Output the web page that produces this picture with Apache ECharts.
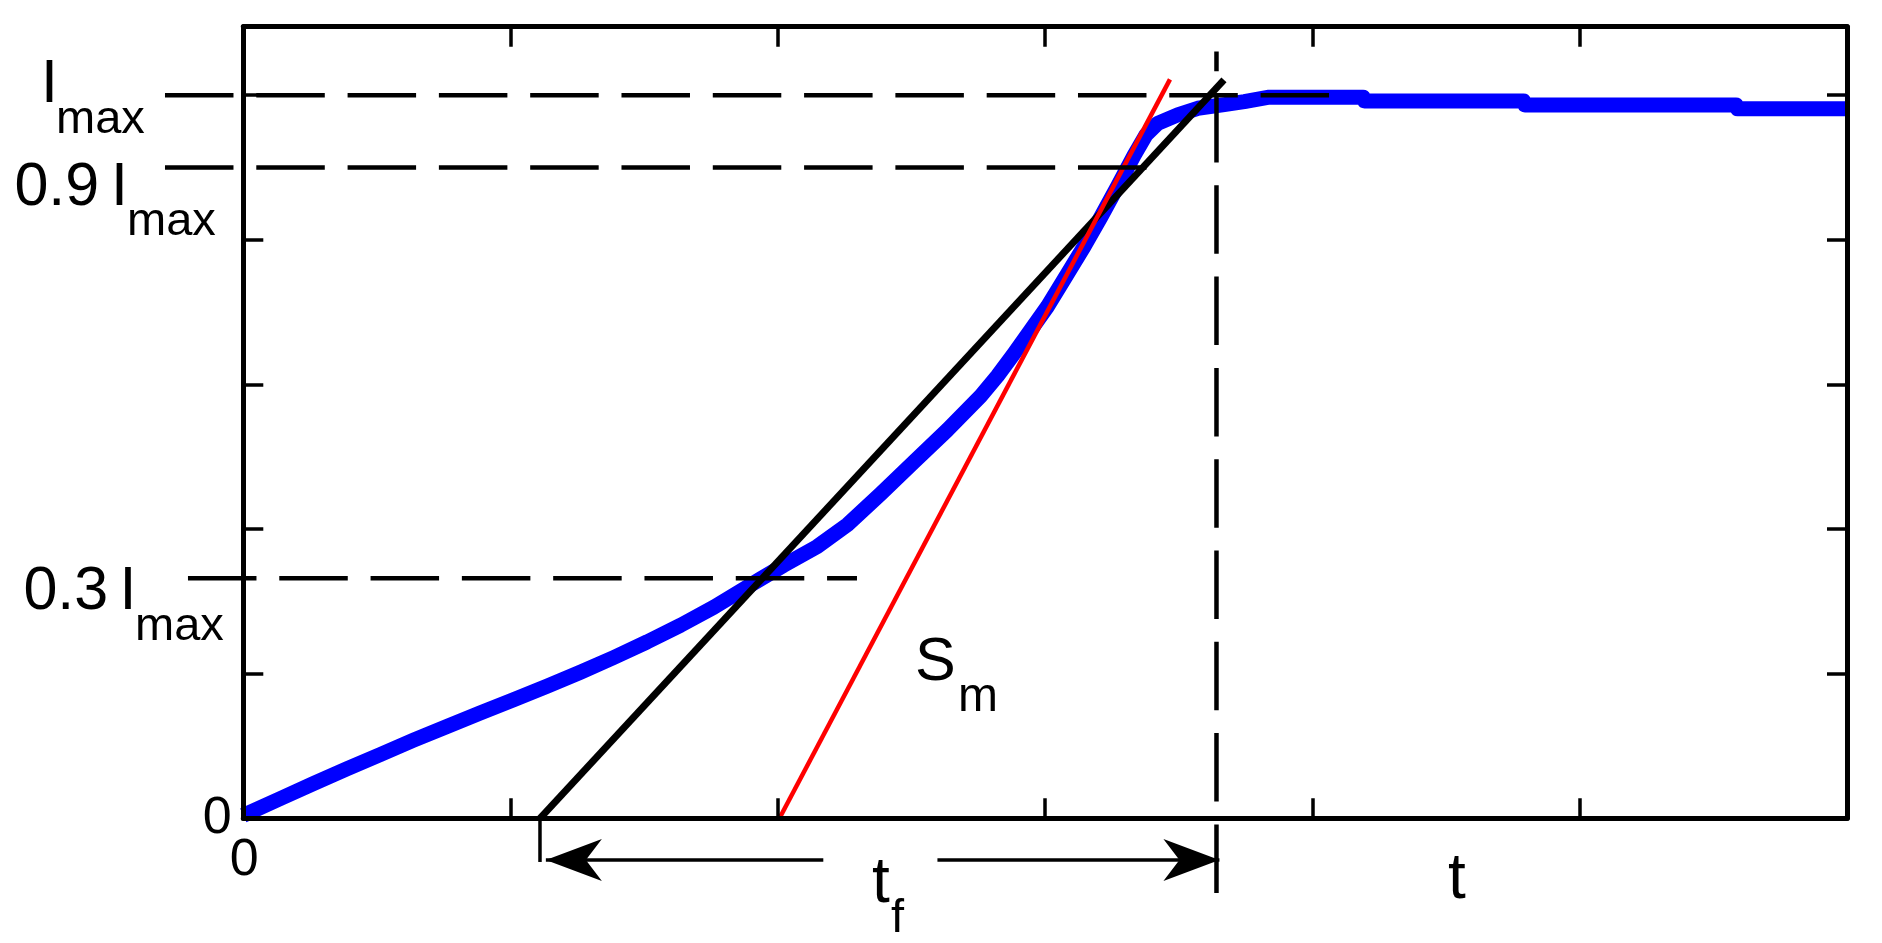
<!DOCTYPE html>
<html><head><meta charset="utf-8">
<script src="https://cdn.jsdelivr.net/npm/echarts@6/dist/echarts.min.js"></script>
<style>html,body{margin:0;padding:0;background:#fff}#c{width:1882px;height:943px}</style>
</head><body><div id="c"></div>
<script>
// ---- data ----
const blueX = [0, 0.137, 0.262, 0.387, 0.512, 0.637, 0.762, 0.886, 1.011, 1.136, 1.261, 1.386, 1.511, 1.636, 1.761, 1.886, 1.935, 2.022, 2.148, 2.26, 2.385, 2.509, 2.634, 2.759, 2.822, 2.884, 2.946, 3.009, 3.052, 3.146, 3.209, 3.271, 3.333, 3.377, 3.421, 3.496, 3.571, 3.67, 3.745, 3.833, 4.19, 4.195, 4.79, 4.795, 5.585, 5.59, 6.0];
const blueY = [0.02, 0.135, 0.24, 0.342, 0.44, 0.54, 0.635, 0.728, 0.82, 0.913, 1.01, 1.112, 1.22, 1.335, 1.46, 1.6, 1.655, 1.75, 1.88, 2.03, 2.245, 2.465, 2.685, 2.92, 3.06, 3.215, 3.375, 3.54, 3.67, 3.955, 4.16, 4.37, 4.585, 4.725, 4.805, 4.864, 4.91, 4.935, 4.956, 4.986, 4.986, 4.961, 4.961, 4.933, 4.933, 4.907, 4.907];
const tangentX = [1.110, 3.669];
const tangentY = [0, 5.106];
const slopeX = [2.006, 3.467];
const slopeY = [0, 5.11];
const levelNames = ['Imax', '0.9 Imax', '0.3 Imax'];
const levelValues = [5.0, 4.5, 1.66];
const levelStartX = [-0.293, -0.293, -0.207];
const levelEndX = [4.062, 3.381, 2.296];
const tEndX = 3.641;
const tEndRangeY = [-0.516, 5.302];
const tfStartX = 1.110;
const tfStartTickY = [0, -0.302];
const arrowY = -0.288;
const tfArrowTipX = [1.132, 3.652];
const tfGap = [2.170, 2.597];
const xRange = [0, 6];
const yRange = [0, 5.474];
const zeroLabel = '0';

const zip = (xs, ys) => xs.map((x, i) => [x, ys[i]]);
const dash = [68.5, 22.8];
const FONT = '"Liberation Sans", Arial, sans-serif';

function axisCommon(extra) {
  return Object.assign({
    type: 'value', interval: 1, z: 10,
    axisLine: { show: true, onZero: false, lineStyle: { color: '#000', width: 5 } },
    axisTick: { show: true, inside: true, length: 20, lineStyle: { color: '#000', width: 3.5 } },
    axisLabel: { show: false }, splitLine: { show: false }
  }, extra);
}

const chart = echarts.init(document.getElementById('c'), null, { renderer: 'canvas' });
chart.setOption({
  animation: false,
  backgroundColor: '#fff',
  grid: { left: 243.3, top: 26.7, width: 1603.7, height: 791.6, containLabel: false },
  xAxis: [axisCommon({ min: xRange[0], max: xRange[1], position: 'bottom' }),
          axisCommon({ min: xRange[0], max: xRange[1], position: 'top' })],
  yAxis: [axisCommon({ min: yRange[0], max: yRange[1], position: 'left' }),
          axisCommon({ min: yRange[0], max: yRange[1], position: 'right' })],
  series: [
    { type: 'line', data: zip(blueX, blueY), showSymbol: false, symbol: 'none',
      lineStyle: { color: '#0000ff', width: 15, cap: 'butt', join: 'round' }, z: 2 },
    { type: 'line', data: zip(tangentX, tangentY), symbol: 'none', clip: false,
      lineStyle: { color: '#000', width: 7 }, z: 3 },
    { type: 'line', data: zip(slopeX, slopeY), symbol: 'none', clip: false,
      lineStyle: { color: '#ff0000', width: 4.5 }, z: 4 }
  ]
});

// annotation marks placed through the chart's own axes
const P = (x, y) => chart.convertToPixel({ xAxisIndex: 0, yAxisIndex: 0 }, [x, y]);
function seg(a, b, w, dashed) {
  return { type: 'line', z: 50, silent: true,
    shape: { x1: a[0], y1: a[1], x2: b[0], y2: b[1] },
    style: { stroke: '#000', lineWidth: w, lineDash: dashed ? dash : null, lineCap: 'butt' } };
}
function arrowHead(tip, dir) { // dir: -1 points left, +1 points right
  const L = 56, W = 21, N = 40;
  return { type: 'polygon', z: 51, silent: true,
    shape: { points: [[tip[0], tip[1]], [tip[0] - dir * L, tip[1] - W], [tip[0] - dir * N, tip[1]], [tip[0] - dir * L, tip[1] + W]] },
    style: { fill: '#000' } };
}
function txt(text, size, x, base) {
  return { type: 'text', x: x, y: base - 0.31 * size, z: 100, silent: true,
    style: { text: text, font: size + 'px ' + FONT, fill: '#000', verticalAlign: 'middle', align: 'left' } };
}
const g = [];
levelValues.forEach((v, i) => g.push(seg(P(levelStartX[i], v), P(levelEndX[i], v), 4.5, true)));
g.push(seg(P(tEndX, tEndRangeY[0]), P(tEndX, tEndRangeY[1]), 4.5, true));
g.push(seg(P(tfStartX, tfStartTickY[0]), P(tfStartX, tfStartTickY[1]), 3.5, false));
g.push(seg(P(tfArrowTipX[0], arrowY), P(tfGap[0], arrowY), 3.5, false));
g.push(seg(P(tfGap[1], arrowY), P(tfArrowTipX[1], arrowY), 3.5, false));
g.push(arrowHead(P(tfArrowTipX[0], arrowY), -1));
g.push(arrowHead(P(tfArrowTipX[1], arrowY), 1));
g.push(
  txt('I', 61, 41, 104), txt('max', 47, 56, 135),
  txt('0.9', 61, 14.4, 206.7), txt('I', 61, 111, 206.7), txt('max', 47, 127, 236.7),
  txt('0.3', 61, 23.4, 610.7), txt('I', 61, 119.5, 610.7), txt('max', 47, 135, 641.7),
  txt(zeroLabel, 52, 202.8, 835), txt(zeroLabel, 52, 229.8, 877),
  txt('S', 61, 915, 682), txt('m', 48, 958, 713),
  txt('t', 64, 872, 904), txt('f', 47, 891, 934),
  txt('t', 64, 1448, 900)
);
chart.setOption({ graphic: g });
</script></body></html>
